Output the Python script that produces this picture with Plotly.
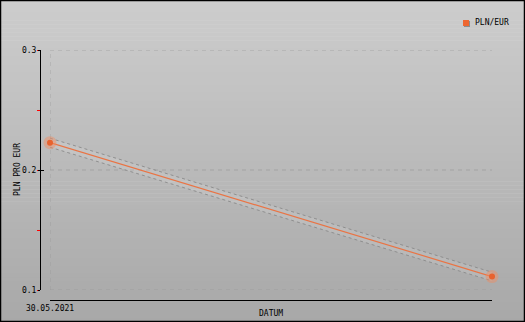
import plotly.graph_objects as go

# ---- data ----
dates = ["2021-05-30", "2021-05-31"]
rate = [0.2228, 0.1112]
band_upper = [0.2265, 0.1148]
band_lower = [0.2190, 0.1076]
series_name = "PLN/EUR"
x_title = "DATUM"
y_title = "PLN PRO EUR"
x_tick_vals = ["2021-05-30"]
x_tick_text = ["30.05.2021"]
y_tick_vals = [0.1, 0.2, 0.3]
y_tick_text = ["0.1", "0.2", "0.3"]

W, H = 525, 322
ML, MR, MT, MB = 40, 33, 50, 22
PW, PH = W - ML - MR, H - MT - MB

def px_x(p):
    return (p - ML) / PW

def px_y(p):
    return (H - MB - p) / PH

ORANGE = "#ea7444"
FONT = "DejaVu Sans Mono"
GRID = "rgba(150,150,150,0.65)"

fig = go.Figure()

# band
fig.add_trace(go.Scatter(x=dates, y=band_upper, mode="lines",
                         line=dict(color="rgba(135,135,135,0.85)", width=1, dash="3px,3px"),
                         hoverinfo="skip", showlegend=False))
fig.add_trace(go.Scatter(x=dates, y=band_lower, mode="lines",
                         line=dict(color="rgba(135,135,135,0.85)", width=1, dash="3px,3px"),
                         fill="tonexty", fillcolor="rgba(255,255,255,0.12)",
                         hoverinfo="skip", showlegend=False))
# main line
fig.add_trace(go.Scatter(x=dates, y=rate, mode="lines", name=series_name,
                         line=dict(color=ORANGE, width=1.2), showlegend=False))
# halo + points
fig.add_trace(go.Scatter(x=dates, y=rate, mode="markers", showlegend=False, hoverinfo="skip",
                         cliponaxis=False,
                         marker=dict(size=13, color="rgba(245,140,95,0.45)", line=dict(width=0))))
fig.add_trace(go.Scatter(x=dates, y=rate, mode="markers", showlegend=False, cliponaxis=False,
                         marker=dict(size=6, color="#e8622e", line=dict(width=0))))
# dummy trace for secondary tick axis
fig.add_trace(go.Scatter(x=dates, y=[None, None], yaxis="y2", showlegend=False,
                         hoverinfo="skip"))

# gradient background
shapes = []
N = 80
top = (205, 205, 205)
bot = (168, 168, 168)
for i in range(N):
    t = (i + 0.5) / N
    c = tuple(int(round(top[k] + (bot[k] - top[k]) * t)) for k in range(3))
    y0p = H * i / N
    y1p = H * (i + 1) / N + 0.6
    shapes.append(dict(type="rect", xref="paper", yref="paper", layer="below",
                       x0=px_x(0), x1=px_x(W), y0=px_y(y1p), y1=px_y(y0p),
                       line=dict(width=0), fillcolor="rgb(%d,%d,%d)" % c))
# gridlines
for v in y_tick_vals:
    shapes.append(dict(type="line", xref="x domain", yref="y", layer="below",
                       x0=0, x1=1, y0=v, y1=v,
                       line=dict(color=GRID, width=1, dash="4px,4px")))
for v in x_tick_vals:
    shapes.append(dict(type="line", xref="x", yref="y domain", layer="below",
                       x0=v, x1=v, y0=0, y1=1,
                       line=dict(color=GRID, width=1, dash="4px,4px")))
# outer border
shapes.append(dict(type="rect", xref="paper", yref="paper", layer="above",
                   x0=px_x(0.5), x1=px_x(W - 0.5), y0=px_y(H - 0.5), y1=px_y(0.5),
                   line=dict(color="black", width=1.5)))
# legend mark
shapes.append(dict(type="rect", xref="paper", yref="paper",
                   x0=px_x(464), x1=px_x(470), y0=px_y(27), y1=px_y(21),
                   line=dict(width=0), fillcolor="#8c8c8c"))
shapes.append(dict(type="rect", xref="paper", yref="paper",
                   x0=px_x(463), x1=px_x(469), y0=px_y(26), y1=px_y(20),
                   line=dict(width=0), fillcolor="#ee6630"))

annotations = [
    dict(text=series_name, xref="paper", yref="paper",
         x=px_x(473), y=px_y(23), xanchor="left", yanchor="middle",
         showarrow=False, font=dict(family=FONT, size=8, color="black")),
    dict(text=x_title, xref="x domain", yref="paper",
         x=0.5, y=px_y(313), xanchor="center", yanchor="middle",
         showarrow=False, font=dict(family=FONT, size=8, color="black")),
    dict(text=y_title, xref="paper", yref="y domain", textangle=-90,
         x=px_x(17), y=0.5, xanchor="center", yanchor="middle",
         showarrow=False, font=dict(family=FONT, size=8, color="black")),
]

fig.update_layout(
    width=W, height=H,
    margin=dict(l=ML, r=MR, t=MT, b=MB, pad=0, autoexpand=False),
    paper_bgcolor="rgba(0,0,0,0)",
    plot_bgcolor="rgba(0,0,0,0)",
    font=dict(family=FONT, size=8, color="black"),
    showlegend=False,
    shapes=shapes,
    annotations=annotations,
    xaxis=dict(
        type="date", domain=[10 / PW, 1], anchor="free", position=0,
        range=[dates[0], dates[-1]], automargin=False,
        tickmode="array", tickvals=x_tick_vals, ticktext=x_tick_text,
        ticks="inside", ticklen=3, tickcolor="black",
        showline=True, linecolor="black", linewidth=1,
        showgrid=False, zeroline=False,
    ),
    yaxis=dict(
        domain=[10 / PH, 1], anchor="free", position=0,
        range=[0.1, 0.3], automargin=False,
        tickmode="array", tickvals=y_tick_vals, ticktext=y_tick_text,
        ticks="outside", ticklen=2, tickcolor="black",
        minor=dict(dtick=0.05, tick0=0.1, ticks="outside", ticklen=3,
                   tickcolor="red", showgrid=False),
        showline=True, linecolor="black", linewidth=1,
        showgrid=False, zeroline=False,
    ),
    yaxis2=dict(
        domain=[10 / PH, 1], anchor="free", position=0, overlaying="y",
        range=[0.1, 0.3], tickmode="array", tickvals=y_tick_vals, automargin=False,
        ticks="inside", ticklen=3, tickcolor="black", showticklabels=False,
        showgrid=False, zeroline=False, showline=False,
    ),
)

fig.write_html("out.html")
